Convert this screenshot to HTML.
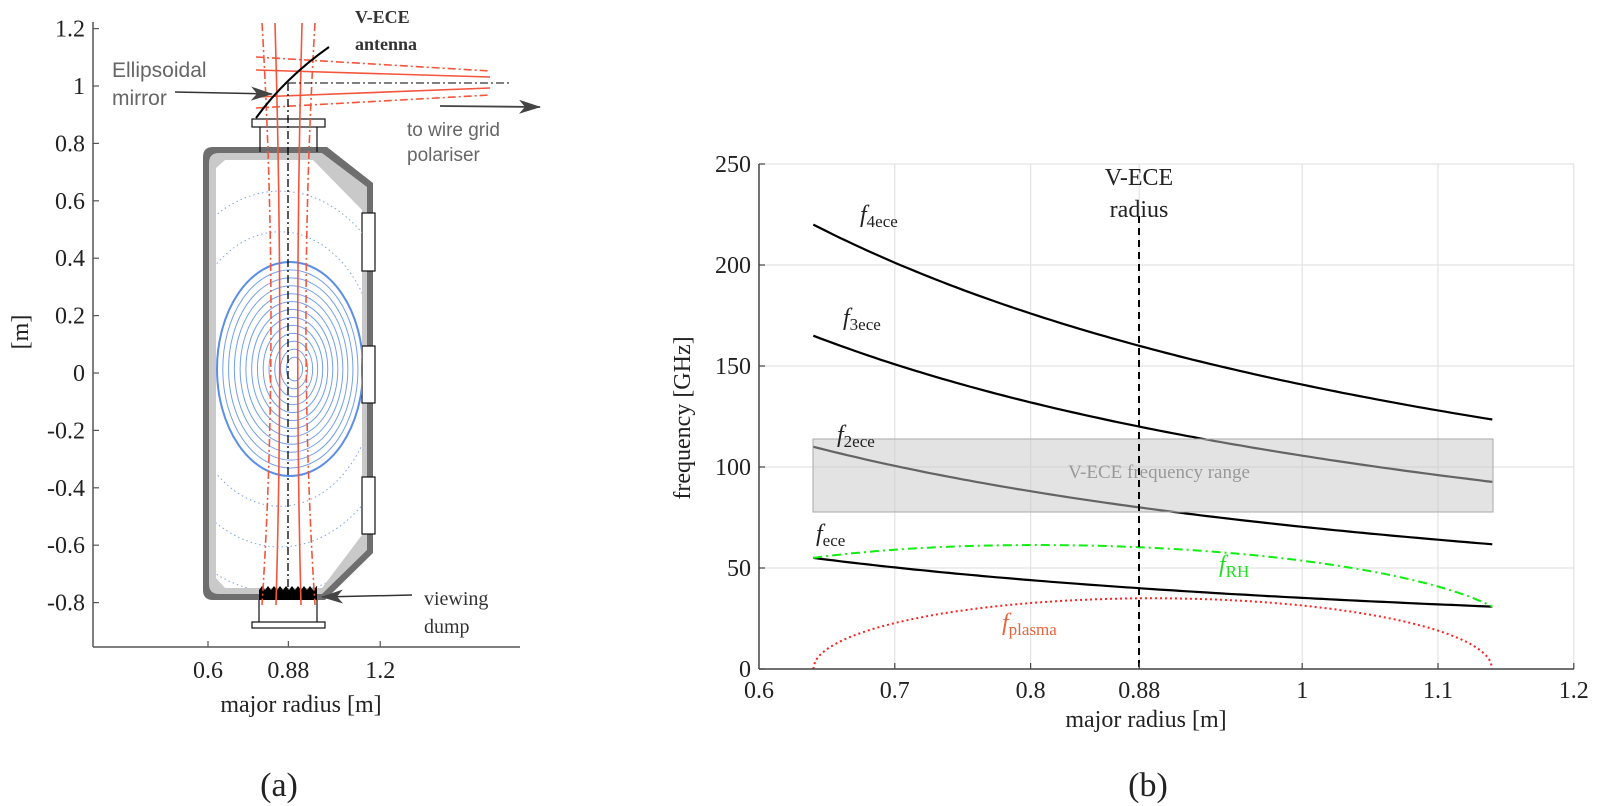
<!DOCTYPE html>
<html><head><meta charset="utf-8"><style>
html,body{margin:0;padding:0;background:#fff;}
svg{display:block;font-family:"Liberation Serif",serif;}
.t{font-size:24px;fill:#222;}
.s{font-family:"Liberation Sans",sans-serif;fill:#666;font-size:21px;}
</style></head><body>
<svg id="sv" width="1600" height="806" viewBox="0 0 1600 806" xmlns="http://www.w3.org/2000/svg">
<defs>
<clipPath id="vin"><path d="M225 160 L313 160 L362 210 L362 535 L322 588 L225 588 L216 578 L216 168 Z"/></clipPath>
<marker id="ar2" markerWidth="22" markerHeight="14" refX="21" refY="7" orient="auto" markerUnits="userSpaceOnUse"><path d="M0 0 L22 7 L0 14 L6 7 Z" fill="#444"/></marker>
</defs>
<g id="L">
<line x1="93" y1="22" x2="93" y2="647" stroke="#555" stroke-width="1.5"/>
<line x1="93" y1="647" x2="520" y2="647" stroke="#555" stroke-width="1.5"/>
<g id="lt"></g>
<path d="M213 147 L327 147 L373 183 L373 553 L325 600 L213 600 Q203 600 203 590 L203 157 Q203 147 213 147 Z" fill="#6e6e6e"/>
<path d="M219 153 L322 153 L367 187 L367 550 L322 594 L219 594 Q209 594 209 584 L209 163 Q209 153 219 153 Z" fill="#c9c9c9"/>
<path d="M225 160 L313 160 L362 210 L362 535 L322 588 L225 588 L216 578 L216 168 Z" fill="#fff"/>
<rect x="362" y="213" width="13" height="58" fill="#fff" stroke="#111" stroke-width="1.2"/>
<rect x="362" y="346" width="13" height="57" fill="#fff" stroke="#111" stroke-width="1.2"/>
<rect x="362" y="477" width="13" height="57" fill="#fff" stroke="#111" stroke-width="1.2"/>
<g id="cont" clip-path="url(#vin)"></g>
<rect x="252" y="119" width="73" height="8" fill="#fff" stroke="#111" stroke-width="1.2"/>
<line x1="260" y1="127" x2="260" y2="152" stroke="#111" stroke-width="1.2"/>
<line x1="317" y1="127" x2="317" y2="152" stroke="#111" stroke-width="1.2"/>
<path d="M259 600 L259 590 L262 586 L265 590 L268 586 L271 590 L274 586 L277 590 L280 586 L283 590 L286 586 L289 590 L292 586 L295 590 L298 586 L301 590 L304 586 L307 590 L310 586 L313 590 L317 586 L317 600 Z" fill="#000"/>
<line x1="259" y1="600" x2="259" y2="627" stroke="#111" stroke-width="1.2"/>
<line x1="317" y1="600" x2="317" y2="627" stroke="#111" stroke-width="1.2"/>
<rect x="252" y="622" width="73" height="6" fill="#fff" stroke="#111" stroke-width="1.2"/>
<g fill="none" stroke="#f4553c" stroke-width="1.6">
<path d="M275 23 Q284 330 276 605"/><path d="M302 23 Q294 330 301 605"/>
<path d="M262 23 Q280 330 262 605" stroke-dasharray="8 3 2 3"/><path d="M315 23 Q297 330 315 605" stroke-dasharray="8 3 2 3"/>
<path d="M256 70 L490 77"/><path d="M256 97 L490 88"/>
<path d="M256 57 L490 71" stroke-dasharray="8 3 2 3"/><path d="M256 108 L490 95" stroke-dasharray="8 3 2 3"/>
</g>
<line x1="288" y1="83" x2="288" y2="600" stroke="#000" stroke-width="1.3" stroke-dasharray="8 3 2 3"/>
<line x1="288" y1="83" x2="510" y2="83" stroke="#000" stroke-width="1.1" stroke-dasharray="8 3 2 3"/>
<path d="M256 118 Q285 78 329 47" fill="none" stroke="#000" stroke-width="2"/>
<line x1="175" y1="92" x2="272" y2="94" stroke="#333" stroke-width="1.5" marker-end="url(#ar2)"/>
<line x1="440" y1="106" x2="540" y2="107" stroke="#444" stroke-width="1.8" marker-end="url(#ar2)"/>
<line x1="412" y1="595" x2="322" y2="597" stroke="#333" stroke-width="1.5" marker-end="url(#ar2)"/>
<text x="355" y="23" style="font-weight:bold;font-size:18px;fill:#333">V-ECE</text>
<text x="355" y="50" style="font-weight:bold;font-size:18px;fill:#333">antenna</text>
<text class="s" x="112" y="77">Ellipsoidal</text>
<text class="s" x="112" y="105">mirror</text>
<text class="s" x="407" y="136" style="font-size:19px">to wire grid</text>
<text class="s" x="407" y="161" style="font-size:19px">polariser</text>
<text x="424" y="605" style="font-size:20px;fill:#333">viewing</text>
<text x="424" y="633" style="font-size:20px;fill:#333">dump</text>
<text class="t" x="301" y="712" text-anchor="middle">major radius [m]</text>
<text class="t" transform="translate(28 332) rotate(-90)" text-anchor="middle">[m]</text>
<text x="279" y="796" text-anchor="middle" style="font-size:34px;fill:#222">(a)</text>
</g>
<g id="R">
<g id="grid"></g>
<g id="curves"></g>
<rect x="813" y="439" width="680" height="73" fill="rgb(200,200,200)" fill-opacity="0.5" stroke="#aaa" stroke-width="1"/>
<text x="1159" y="478" text-anchor="middle" style="font-size:19px;fill:#999">V-ECE frequency range</text>
<line x1="1139" y1="216" x2="1139" y2="669" stroke="#000" stroke-width="2" stroke-dasharray="7 5"/>
<line x1="759" y1="164" x2="759" y2="669" stroke="#444" stroke-width="1.5"/>
<line x1="759" y1="669" x2="1574" y2="669" stroke="#444" stroke-width="1.5"/>
<g id="rt"></g>
<text class="t" x="1139" y="185" text-anchor="middle">V-ECE</text>
<text class="t" x="1139" y="217" text-anchor="middle">radius</text>
<text class="t" x="860" y="222"><tspan font-style="italic">f</tspan><tspan font-size="17" dy="5">4ece</tspan></text>
<text class="t" x="843" y="325"><tspan font-style="italic">f</tspan><tspan font-size="17" dy="5">3ece</tspan></text>
<text class="t" x="837" y="442"><tspan font-style="italic">f</tspan><tspan font-size="17" dy="5">2ece</tspan></text>
<text class="t" x="816" y="541"><tspan font-style="italic">f</tspan><tspan font-size="17" dy="5">ece</tspan></text>
<text class="t" x="1219" y="572" style="fill:#22dd22"><tspan font-style="italic">f</tspan><tspan font-size="17" dy="5">RH</tspan></text>
<text class="t" x="1002" y="630" style="fill:#e8643c"><tspan font-style="italic">f</tspan><tspan font-size="17" dy="5">plasma</tspan></text>
<text class="t" x="1146" y="727" text-anchor="middle">major radius [m]</text>
<text class="t" transform="translate(690 418) rotate(-90)" text-anchor="middle">frequency [GHz]</text>
<text x="1148" y="796" text-anchor="middle" style="font-size:34px;fill:#222">(b)</text>
</g>
</svg>
<script>
var NS="http://www.w3.org/2000/svg";
function el(p,t,a,txt){var e=document.createElementNS(NS,t);for(var k in a)e.setAttribute(k,a[k]);if(txt!==undefined)e.textContent=txt;document.getElementById(p).appendChild(e);return e;}
var LY=function(z){return 373-287*z;}, LX=function(r){return 208+287*(r-0.6);};
[1.2,1,0.8,0.6,0.4,0.2,0,-0.2,-0.4,-0.6,-0.8].forEach(function(z){var y=LY(z);
el("lt","line",{x1:93,y1:y,x2:99,y2:y,stroke:"#555","stroke-width":1.2});
el("lt","text",{x:85,y:y+8,"text-anchor":"end","class":"t"},(z==0?"0":(z<0?"-":"")+String(Math.abs(z))));});
[0.6,0.88,1.2].forEach(function(r){var x=LX(r);el("lt","line",{x1:x,y1:647,x2:x,y2:641,stroke:"#555","stroke-width":1.2});
el("lt","text",{x:x,y:678,"text-anchor":"middle","class":"t"},String(r));});
for(var i=0;i<13;i++){var t=1-i/13.5;var cx=290+5*(1-t),cy=369;
el("cont","ellipse",{cx:cx,cy:cy,rx:73*t,ry:107*t,fill:"none",stroke:"#5b8ee6","stroke-width":i==0?2:1,"stroke-opacity":i==0?1:0.85});}
[1.35,1.75,2.2,2.8,3.5].forEach(function(t){el("cont","ellipse",{cx:280,cy:369,rx:73*t,ry:107*t*0.95,fill:"none",stroke:"#7aa3ee","stroke-width":1,"stroke-dasharray":"1.5 3"});});
var X=function(r){return 759+1358*(r-0.6);}, Y=function(f){return 669-2.02*f;};
[0.7,0.8,0.88,1,1.1,1.2].forEach(function(r){var x=X(r);el("grid","line",{x1:x,y1:164,x2:x,y2:669,stroke:"#e3e3e3","stroke-width":1.2});
el("rt","line",{x1:x,y1:669,x2:x,y2:663,stroke:"#444","stroke-width":1.2});});
[0.6,0.7,0.8,0.88,1,1.1,1.2].forEach(function(r){el("rt","text",{x:X(r),y:698,"text-anchor":"middle","class":"t"},String(r));});
[0,50,100,150,200,250].forEach(function(f){var y=Y(f);if(f>0)el("grid","line",{x1:759,y1:y,x2:1574,y2:y,stroke:"#e3e3e3","stroke-width":1.2});
el("rt","line",{x1:759,y1:y,x2:765,y2:y,stroke:"#444","stroke-width":1.2});
el("rt","text",{x:751,y:y+8,"text-anchor":"end","class":"t"},String(f));});
function path(fn,a,b,n){var d="";for(var i=0;i<=n;i++){var r=a+(b-a)*i/n;d+=(i?"L":"M")+X(r).toFixed(1)+" "+Y(fn(r)).toFixed(1);}return d;}
var fp=function(r){var u=(r-0.89)/0.25;var v=1-u*u;return v>0?35*Math.pow(v,0.5):0;};
var fce=function(r){return 35.2/r;};
[4,3,2,1].forEach(function(k){el("curves","path",{d:path(function(r){return 35.2*k/r;},0.64,1.14,100),fill:"none",stroke:"#000","stroke-width":2.2});});
el("curves","path",{d:path(function(r){var c=fce(r);return c/2+Math.sqrt(c*c/4+fp(r)*fp(r));},0.64,1.14,100),fill:"none",stroke:"#11ee11","stroke-width":2,"stroke-dasharray":"9 4 2 4"});
el("curves","path",{d:path(fp,0.64,1.14,400),fill:"none",stroke:"#ff2020","stroke-width":2,"stroke-dasharray":"2 3"});
</script>
</body></html>
